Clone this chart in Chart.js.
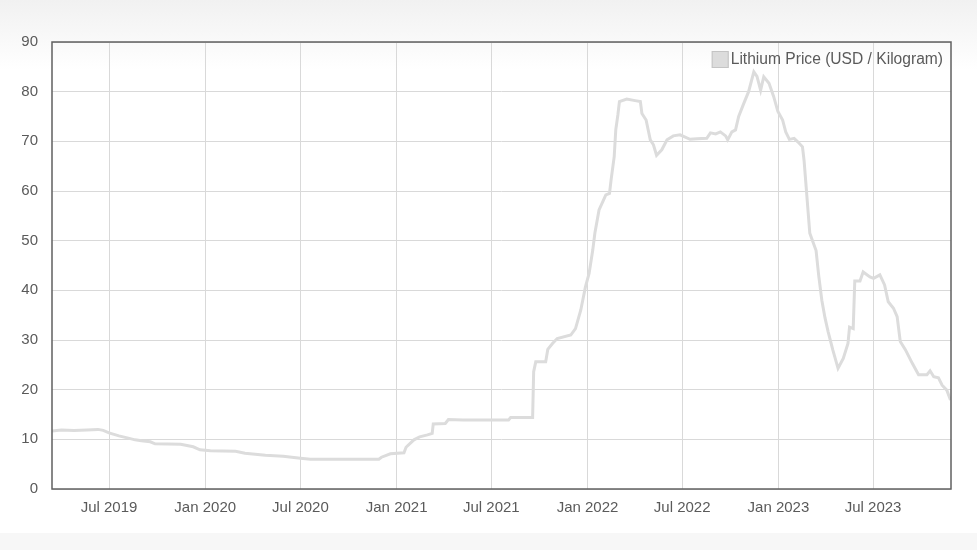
<!DOCTYPE html>
<html>
<head>
<meta charset="utf-8">
<script src="https://cdn.jsdelivr.net/npm/chart.js@4/dist/chart.umd.min.js"></script>
<style>
  html, body { margin: 0; padding: 0; }
  body {
    width: 977px; height: 550px; position: relative; overflow: hidden;
    background: linear-gradient(#f1f1f1 0px, #ffffff 70px);
  }
  #wrap { position: absolute; left: 0; top: 0; width: 977px; height: 533px; }
  #foot { position: absolute; left: 0; top: 533px; width: 977px; height: 17px; background: #f7f7f7; }
</style>
</head>
<body>
<div id="wrap"><canvas id="lithiumChart" width="977" height="533"></canvas></div>
<div id="foot"></div>
<script>
const seriesLabel = "Lithium Price (USD / Kilogram)";

const dates = [
  "2019-03-14","2019-04-01","2019-04-25","2019-05-20","2019-06-10","2019-06-20","2019-07-01","2019-07-20",
  "2019-08-05","2019-08-20","2019-09-01","2019-09-18","2019-09-27","2019-11-15","2019-12-09","2019-12-22",
  "2020-01-11","2020-02-28","2020-03-17","2020-04-25","2020-05-29","2020-07-01","2020-07-20","2020-11-28",
  "2020-12-03","2020-12-20","2021-01-15","2021-01-19","2021-02-03","2021-02-14","2021-03-01","2021-03-10",
  "2021-03-12","2021-04-04","2021-04-10","2021-05-08","2021-08-03","2021-08-07","2021-09-18","2021-09-20",
  "2021-09-24","2021-10-13","2021-10-17","2021-10-26","2021-11-04","2021-11-30","2021-12-09","2021-12-19",
  "2021-12-28","2022-01-04","2022-01-11","2022-01-15","2022-01-23","2022-01-30","2022-02-05","2022-02-12",
  "2022-02-15","2022-02-21","2022-02-24","2022-02-28","2022-03-03","2022-03-17","2022-04-02","2022-04-12",
  "2022-04-15","2022-04-23","2022-05-01","2022-05-07","2022-05-13","2022-05-23","2022-06-02","2022-06-14",
  "2022-06-27","2022-07-16","2022-07-29","2022-08-17","2022-08-24","2022-09-03","2022-09-12","2022-09-22",
  "2022-09-26","2022-10-04","2022-10-11","2022-10-17","2022-10-27","2022-11-05","2022-11-15","2022-11-21",
  "2022-11-28","2022-12-04","2022-12-14","2022-12-23","2022-12-31","2023-01-09","2023-01-15","2023-01-22",
  "2023-01-31","2023-02-07","2023-02-16","2023-02-19","2023-02-23","2023-02-27","2023-03-02","2023-03-14",
  "2023-03-19","2023-03-25","2023-03-31","2023-04-06","2023-04-15","2023-04-25","2023-05-05","2023-05-14",
  "2023-05-17","2023-05-24","2023-05-27","2023-06-06","2023-06-12","2023-06-25","2023-07-02","2023-07-14",
  "2023-07-23","2023-07-30","2023-08-09","2023-08-16","2023-08-22","2023-09-01","2023-09-14","2023-09-26",
  "2023-10-12","2023-10-18","2023-10-25","2023-11-03","2023-11-10","2023-11-19","2023-11-26"
];

const prices = [
  11.7, 11.9, 11.8, 11.9, 12.0, 11.8, 11.3, 10.7,
  10.3, 9.9, 9.7, 9.5, 9.1, 9.0, 8.5, 7.9,
  7.7, 7.6, 7.2, 6.8, 6.6, 6.2, 6.0, 6.0,
  6.4, 7.1, 7.3, 8.4, 9.9, 10.5, 10.9, 11.2,
  13.1, 13.2, 14.0, 13.9, 13.9, 14.4, 14.4, 23.6,
  25.6, 25.6, 28.1, 29.3, 30.3, 31.0, 32.3, 36.0,
  40.7, 43.4, 48.1, 51.5, 56.2, 57.8, 59.2, 59.5,
  62.2, 66.9, 72.3, 75.3, 78.0, 78.5, 78.2, 78.0,
  75.6, 74.3, 70.3, 69.3, 67.2, 68.3, 70.3, 71.1,
  71.3, 70.4, 70.5, 70.6, 71.7, 71.5, 71.9, 71.1,
  70.3, 71.9, 72.3, 75.0, 77.7, 80.0, 84.0, 83.1,
  80.3, 83.0, 81.7, 79.0, 76.0, 74.3, 71.9, 70.4,
  70.6, 69.9, 68.9, 66.2, 60.9, 55.5, 51.5, 48.0,
  43.0, 38.0, 34.5, 31.7, 28.0, 24.3, 26.3, 29.3,
  32.6, 32.3, 41.9, 41.9, 43.7, 42.7, 42.4, 43.1,
  41.1, 37.7, 36.4, 34.7, 29.7, 28.0, 25.3, 23.0,
  23.0, 23.8, 22.6, 22.4, 20.9, 19.9, 17.9
];

const tickDates = ["2019-07-01","2020-01-01","2020-07-01","2021-01-01","2021-07-01","2022-01-01","2022-07-01","2023-01-01","2023-07-01"];
const tickLabels = ["Jul 2019","Jan 2020","Jul 2020","Jan 2021","Jul 2021","Jan 2022","Jul 2022","Jan 2023","Jul 2023"];
const xStart = "2019-03-14";
const xEnd = "2023-11-27";

const points = dates.map((d, i) => ({ x: Date.parse(d), y: prices[i] }));

Chart.defaults.font.family = '"Liberation Sans", Arial, sans-serif';
Chart.defaults.font.size = 15;
Chart.defaults.color = "#5a5a5a";

// frame round the plot area + legend drawn inside it, top right
const frameAndLegend = {
  id: "frameAndLegend",
  afterDraw(chart) {
    const ctx = chart.ctx;
    const ca = chart.chartArea;
    ctx.save();
    ctx.strokeStyle = "#606060";
    ctx.lineWidth = 1.5;
    ctx.strokeRect(ca.left, ca.top, ca.right - ca.left, ca.bottom - ca.top);

    ctx.font = '15.6px "Liberation Sans", Arial, sans-serif';
    const w = ctx.measureText(seriesLabel).width;
    const textX = ca.right - 8 - w;
    ctx.fillStyle = "rgba(220,220,220,1)";
    ctx.fillRect(textX - 19, ca.top + 9, 17, 17);
    ctx.strokeStyle = "#c4c4c4";
    ctx.lineWidth = 1;
    ctx.strokeRect(textX - 18.5, ca.top + 9.5, 16, 16);
    ctx.fillStyle = "#5a5a5a";
    ctx.textBaseline = "middle";
    ctx.fillText(seriesLabel, textX, ca.top + 18);
    ctx.restore();
  }
};

let ctx = document.getElementById("lithiumChart").getContext("2d");

let lithiumChart = new Chart(ctx, {
  type: "line",
  data: {
    datasets: [{
      label: seriesLabel,
      data: points,
      borderColor: "rgba(220,220,220,1)",
      backgroundColor: "rgba(220,220,220,1)",
      borderWidth: 3,
      pointRadius: 0,
      fill: false,
      tension: 0
    }]
  },
  options: {
    responsive: false,
    animation: false,
    layout: { padding: { top: 42, right: 26, left: 0, bottom: 0 } },
    plugins: {
      legend: { display: false },
      tooltip: { enabled: false }
    },
    scales: {
      x: {
        type: "linear",
        min: Date.parse(xStart),
        max: Date.parse(xEnd),
        grid: { color: "#d9d9d9", drawTicks: false },
        border: { display: false },
        ticks: {
          padding: 10,
          maxRotation: 0,
          autoSkip: false,
          callback: (v, i) => tickLabels[i]
        },
        afterBuildTicks: s => { s.ticks = tickDates.map(d => ({ value: Date.parse(d) })); },
        afterFit: s => { s.height = 44; }
      },
      y: {
        min: 0,
        max: 90,
        grid: { color: "#d9d9d9", drawTicks: false },
        border: { display: false },
        ticks: { stepSize: 10, padding: 14 },
        afterFit: s => { s.width = 52; }
      }
    }
  },
  plugins: [frameAndLegend]
});
</script>
</body>
</html>
